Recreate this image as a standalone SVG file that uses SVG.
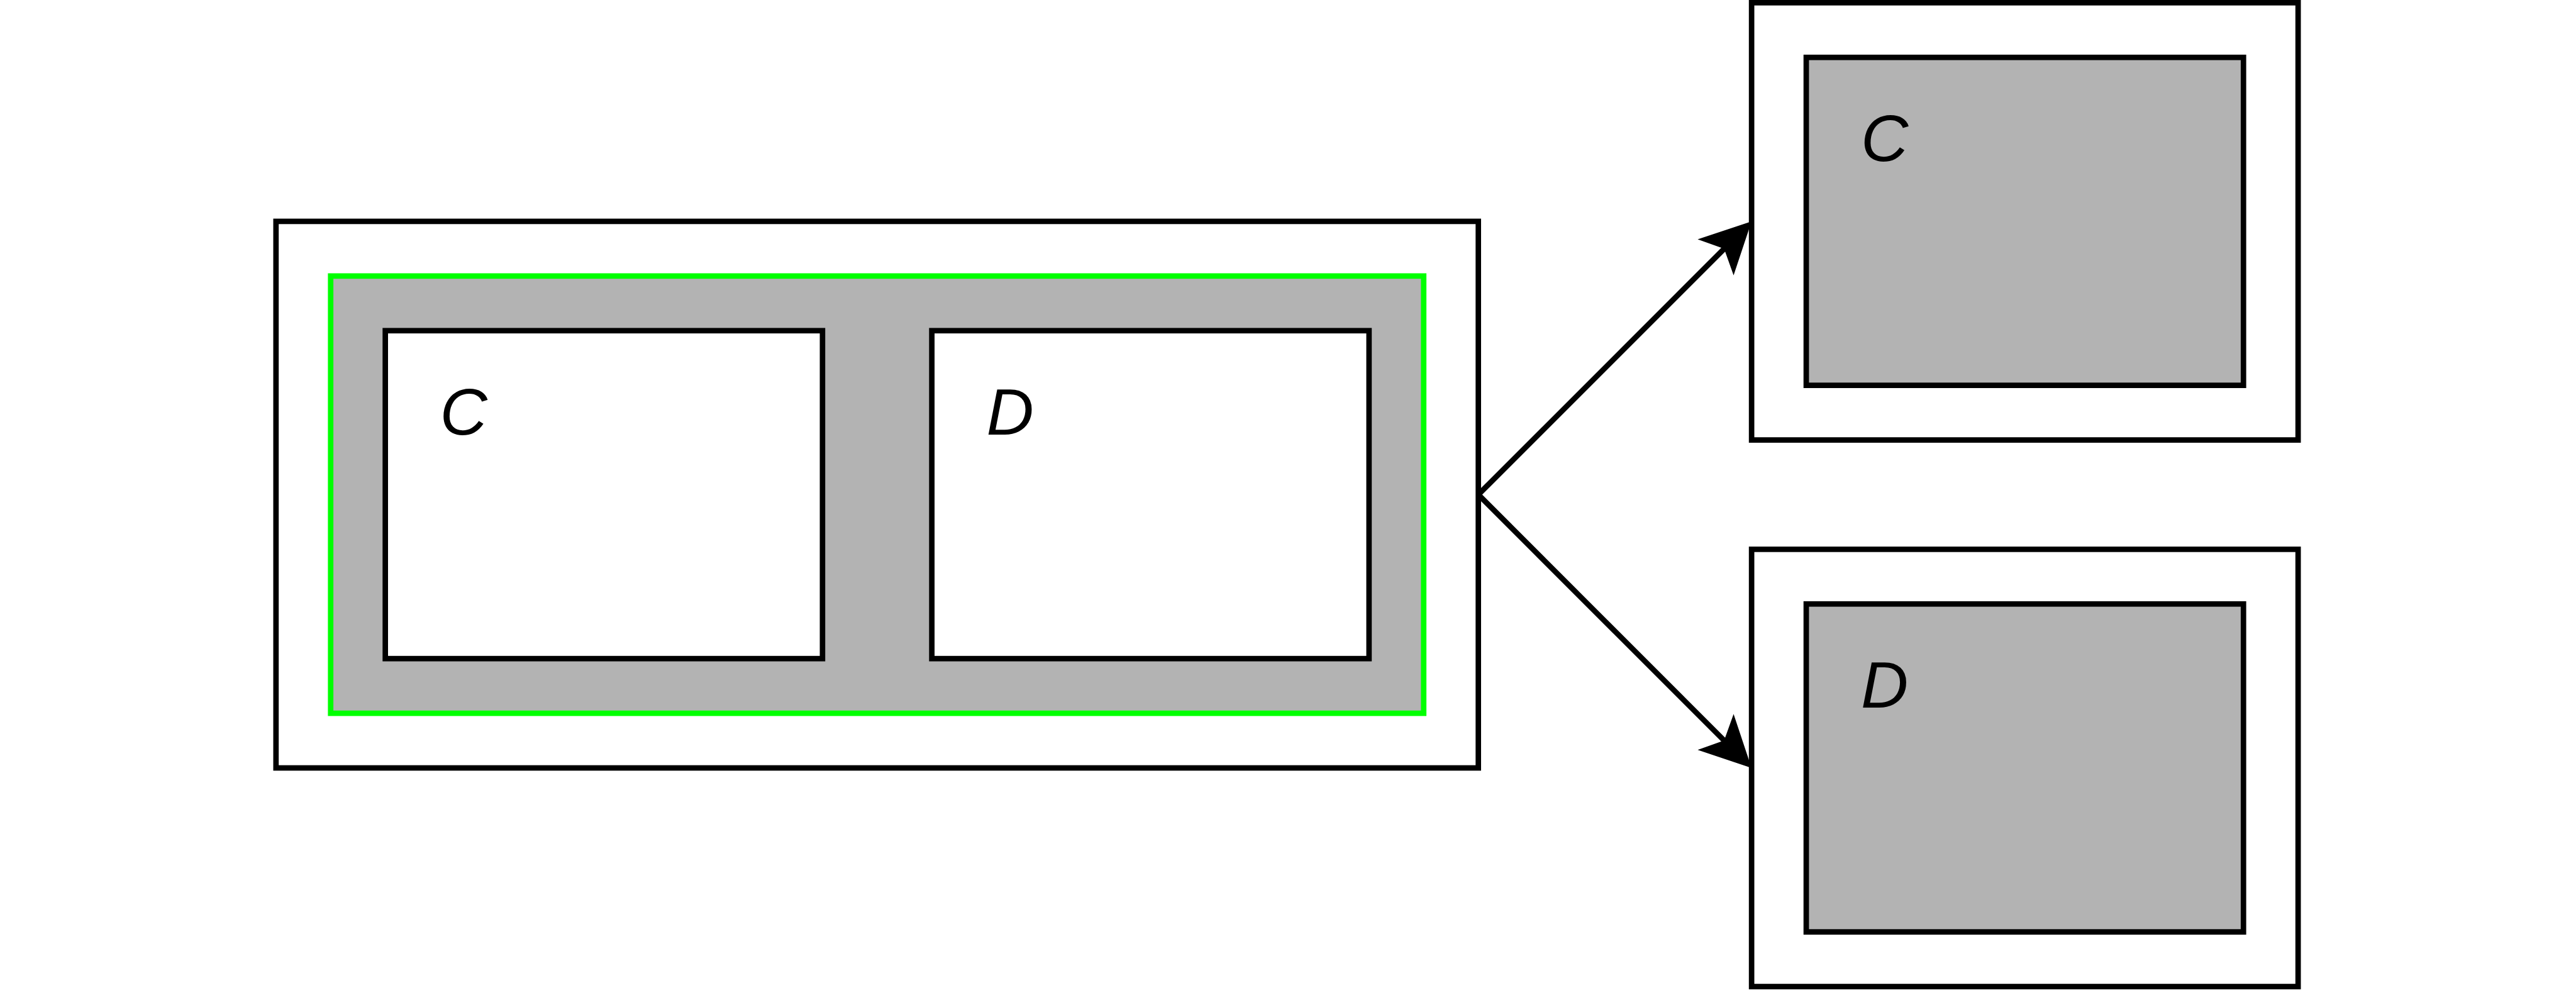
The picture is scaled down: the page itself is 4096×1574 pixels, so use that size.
<svg xmlns="http://www.w3.org/2000/svg" width="4096" height="1574" viewBox="0 0 4096 1574">
<style>
.box{fill:#ffffff;stroke:#000000;stroke-width:10}
.gray{fill:#b3b3b3;stroke:#000000;stroke-width:10}
.green{fill:#b3b3b3;stroke:#00ff00;stroke-width:10}
.edge{fill:none;stroke:#000000;stroke-width:10}
.lbl{font-family:"Liberation Sans",Arial,Helvetica,sans-serif;font-style:italic;font-size:120px;fill:#000000}
</style>
<defs>
<marker id="arrow" markerUnits="userSpaceOnUse" orient="auto" refX="0" refY="0" markerWidth="1" markerHeight="1" overflow="visible">
<path d="M65,0 L-28,-46.5 L-6,0 L-28,46.5 Z" fill="#000000"/>
</marker>
</defs>
<rect width="4096" height="1574" fill="#ffffff"/>
<g transform="scale(0.869)">
<g id="connectors">
<path class="edge" d="M2705,905 L3159,451" marker-end="url(#arrow)"/>
<path class="edge" d="M2705,905 L3159,1359" marker-end="url(#arrow)"/>
</g>
<g id="node-source">
<rect class="box" x="505" y="405" width="2200" height="1000"/>
<rect class="green" x="605" y="505" width="2000" height="800"/>
<g id="node-source-c">
<rect class="box" x="705" y="605" width="800" height="600"/>
<text class="lbl" x="805" y="795">C</text>
</g>
<g id="node-source-d">
<rect class="box" x="1705" y="605" width="800" height="600"/>
<text class="lbl" x="1805" y="795">D</text>
</g>
</g>
<g id="node-c">
<rect class="box" x="3205" y="5" width="1000" height="800"/>
<rect class="gray" x="3305" y="105" width="800" height="600"/>
<text class="lbl" x="3405" y="295">C</text>
</g>
<g id="node-d">
<rect class="box" x="3205" y="1005" width="1000" height="800"/>
<rect class="gray" x="3305" y="1105" width="800" height="600"/>
<text class="lbl" x="3405" y="1295">D</text>
</g>
</g>
</svg>
